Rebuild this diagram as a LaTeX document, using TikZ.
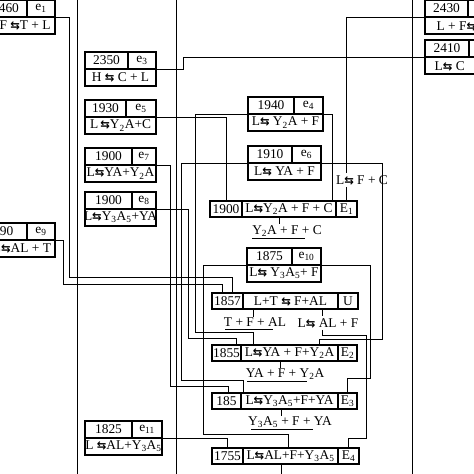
\documentclass[tikz,border=0pt]{standalone}
\usepackage{fontspec}
\setmainfont{Liberation Serif}
\newfontfamily\symf{DejaVu Sans}[Scale=0.85]
\newcommand\eqa{{\symf\bfseries ⇆}}
\newcommand\sbs[1]{\textsubscript{#1}}
\newcommand\fs{\fontsize{13.4}{15}\selectfont}
\tikzset{
 cell/.style={draw, line width=1.2pt, inner sep=0pt, outer sep=0pt, anchor=north west, font=\fs},
 wire/.style={line width=0.8pt},
 framel/.style={line width=0.8pt},
 lab/.style={font=\fs, inner xsep=0.5pt, inner ysep=2pt, anchor=base},
}
\newcommand\ebox[8]{%
 \node[cell, minimum width=#5pt, minimum height=17pt] (#1a) at (#2,#3) {\makebox[0pt]{#6}};
 \node[cell, minimum width={(#4-#5)*1pt}, minimum height=17pt] (#1b) at (#1a.north east) {\makebox[0pt]{#7}};
 \node[cell, minimum width=#4pt, minimum height=17pt] (#1c) at (#1a.south west) {\makebox[0pt]{#8}};
}
\newcommand\rbox[9]{%
 \node[cell, minimum width=#4pt, minimum height=16pt] (#1l) at (#2,#3) {\makebox[0pt]{#7}};
 \node[cell, minimum width=#5pt, minimum height=16pt] (#1m) at (#1l.north east) {\makebox[0pt]{#8}};
 \node[cell, minimum width=#6pt, minimum height=16pt] (#1r) at (#1m.north east) {\makebox[0pt]{#9}};
}
\begin{document}
\begin{tikzpicture}[x=1pt,y=-1pt]
\useasboundingbox (0,0) rectangle (474,474);
\fill[white] (0,0) rectangle (474,474);
\clip (0,0) rectangle (474,474);
% column frame lines
\draw[framel] (77,-5) -- (77,480);
\draw[framel] (176,-5) -- (176,480);
\draw[framel] (412,-5) -- (412,480);
% boxes
\ebox{e1}{-16}{0}{71}{43}{2460}{e\sbs{1}}{\hspace{11pt}F \eqa{}T + L}
\ebox{e3}{85}{52}{71}{43}{2350}{e\sbs{3}}{H \eqa{} C + L}
\ebox{e5}{85}{100}{71}{41}{1930}{e\sbs{5}}{L\,\eqa{}Y\sbs{2}A+C}
\ebox{e7}{85}{148}{71}{47}{1900}{e\sbs{7}}{L\eqa{}YA+Y\sbs{2}A}
\ebox{e8}{85}{192}{71}{47}{1900}{e\sbs{8}}{L\eqa{}Y\sbs{3}A\sbs{5}+YA}
\ebox{e9}{-27}{223}{82}{54}{1890}{e\sbs{9}}{\hspace{16pt}L\eqa{}AL + T}
\ebox{e11}{85}{421}{77}{47}{1825}{e\sbs{11}}{L \eqa{}AL+Y\sbs{3}A\sbs{5}}
\ebox{e4}{248}{97}{75}{46}{1940}{e\sbs{4}}{L\eqa{} Y\sbs{2}A + F}
\ebox{e6}{248}{146}{73}{44}{1910}{e\sbs{6}}{L\eqa{} YA + F}
\ebox{e10}{247}{248}{74}{45}{1875}{e\sbs{10}}{L\eqa{} Y\sbs{3}A\sbs{5}+ F}
\ebox{r1}{425}{0}{90}{43}{2430}{}{}
\ebox{r2}{425}{40}{90}{44}{2410}{}{}
\node[lab, anchor=base west] (r1t) at (436,30) {L + F\eqa};
\node[lab, anchor=base west] (r2t) at (434,70) {L\eqa{} C};
\rbox{E1}{210}{201}{32}{94}{21}{1900}{L\eqa{}Y\sbs{2}A + F + C}{E\sbs{1}}
\rbox{U}{212}{293}{31}{95}{20}{1857}{L+T \eqa{} F+AL}{U}
\rbox{E2}{212}{345}{29}{97}{19}{1855}{L\eqa{}YA + F+Y\sbs{2}A}{E\sbs{2}}
\rbox{E3}{212}{393}{29}{97}{19}{185}{L\eqa{}Y\sbs{3}A\sbs{5}+F+YA}{E\sbs{3}}
\rbox{E4}{212}{448}{31}{95}{21}{1755}{L\eqa{}AL+F+Y\sbs{3}A\sbs{5}}{E\sbs{4}}
% labels
\node[lab] (L1) at (287,234) {Y\sbs{2}A + F + C};
\node[lab] (lFC) at (362,184) {L\eqa{} F + C};
\node[lab] (L3) at (255,326) {T + F + AL};
\node[lab] (lALF) at (328,327) {L\eqa{} AL + F};
\node[lab] (L5) at (285,377) {YA + F + Y\sbs{2}A};
\node[lab] (L6) at (290,425) {Y\sbs{3}A\sbs{5} + F + YA};
\draw[wire] (252,238) -- (305,238);
\draw[wire] (225,329) -- (273,329);
\draw[wire] (247,381) -- (307,381);
\draw[wire] (251,429) -- (313,429);
% ticks
\draw[wire] ([xshift=37pt]E1m.south west) -- ++(0,7);
\draw[wire] ([xshift=10pt]Um.south west) -- ++(0,8);
\draw[wire] ([xshift=39pt]E2m.south west) -- ++(0,7);
\draw[wire] ([xshift=40pt]E3m.south west) -- ++(0,7);
\draw[wire] ([xshift=38pt]E4m.south west) -- ++(0,14);
% wires
\draw[wire] (e1b.south east) -| (69,277) -| ([xshift=-11pt]Ul.north east);
\draw[wire] (e9b.south east) -| (63,284) -| ([xshift=-21pt]Ul.north east);
\draw[wire] (e3b.south east) -| (183,57) -- (r2a.south west);
\draw[wire] (r1a.south west) -| (E1r.north |- lFC.north);
\draw[wire] (E1r.north |- lFC.south) -- (E1r.north);
\draw[wire] (e5b.south east) -| (E1l.north);
\draw[wire] (e4a.south west) -| (195,332) -| ([xshift=12pt]E2m.north west);
\draw[wire] (e4b.south east) -| ([xshift=-4pt]E1m.north east);
\draw[wire] (e6a.south west) -| (181,380) -| ([xshift=2pt]E3m.north west);
\draw[wire] (e6b.south east) -| (382,339) -| ([xshift=-19pt]E2m.north east);
\draw[wire] (e7b.south east) -| (170,386) -| ([xshift=16pt]E3l.north west);
\draw[wire] (e8b.south east) -| (188,338) -| ([xshift=-5pt]E2m.north west);
\draw[wire] (e10a.south west) -| (203,434) -| ([xshift=45pt]E4m.north west);
\draw[wire] (e10b.south east) -| (370,378) -| (E3r.north);
\draw[wire] (e11b.south east) -| ([xshift=15pt]E4l.north west);
\draw[wire] ([xshift=-16pt]Um.south east) -- ([xshift=-16pt]Um.south east |- lALF.north);
\draw[wire] ([xshift=-16pt]Um.south east |- lALF.south) |- (366,335) -- (366,438) -| (E4r.north);
\end{tikzpicture}
\end{document}
